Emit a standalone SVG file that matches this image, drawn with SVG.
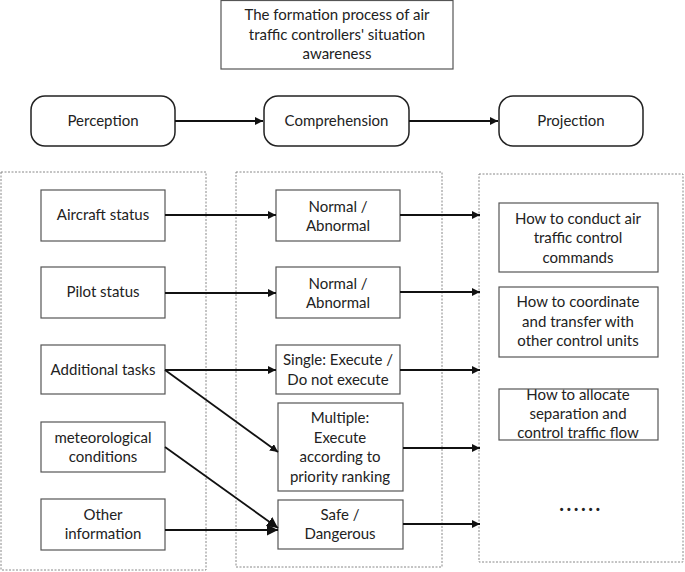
<svg xmlns="http://www.w3.org/2000/svg" width="685" height="572" viewBox="0 0 685 572">
<defs>
<marker id="ah" viewBox="0 0 10 10" refX="10" refY="5" markerWidth="8" markerHeight="8" markerUnits="userSpaceOnUse" orient="auto">
<path d="M0,0 L10,5 L0,10 z" fill="#111"/>
</marker>
<marker id="ahb" viewBox="0 0 10 10" refX="10" refY="5" markerWidth="11" markerHeight="11" markerUnits="userSpaceOnUse" orient="auto">
<path d="M0,0 L10,5 L0,10 z" fill="#111"/>
</marker>
</defs>
<style>
text{font-family:Lato,"Liberation Sans",sans-serif;font-size:15px;fill:#222;text-anchor:middle}
.box{fill:#fff;stroke:#555;stroke-width:1.2}
.ob{fill:none;stroke:#555;stroke-width:1.2}
.rnd{fill:#fff;stroke:#222;stroke-width:1.5}
.grp{fill:none;stroke:#888;stroke-width:1;stroke-dasharray:2,1.5}
.c{fill:none;stroke:#111;stroke-width:1.8;marker-end:url(#ah)}
</style>
<rect width="685" height="572" fill="#fff"/>
<g id="containers">
<rect class="grp" x="1" y="172" width="205" height="398"/>
<rect class="grp" x="236" y="172" width="206" height="395"/>
<rect class="grp" x="479" y="174" width="204" height="388"/>
</g>
<g id="title">
<rect class="box" x="221" y="0.5" width="232" height="68.5"/>
<text x="337" y="20">The formation process of air</text>
<text x="337" y="40">traffic controllers' situation</text>
<text x="337" y="59">awareness</text>
</g>
<g id="perception"><rect class="rnd" x="31" y="96" width="144" height="50" rx="14"/><text x="103" y="126">Perception</text></g>
<g id="comprehension"><rect class="rnd" x="264" y="96" width="145" height="50" rx="14"/><text x="336.5" y="126">Comprehension</text></g>
<g id="projection"><rect class="rnd" x="499" y="96" width="144" height="50" rx="14"/><text x="571" y="126">Projection</text></g>
<g id="aircraft"><rect class="box" x="41" y="190" width="124" height="51"/><text x="103" y="220">Aircraft status</text></g>
<g id="pilot"><rect class="box" x="41" y="267" width="124" height="51"/><text x="103" y="297">Pilot status</text></g>
<g id="additional"><rect class="box" x="41" y="345" width="124" height="49"/><text x="103" y="375">Additional tasks</text></g>
<g id="meteo"><rect class="box" x="41" y="422" width="124" height="50"/><text x="103" y="443">meteorological</text><text x="103" y="462">conditions</text></g>
<g id="other"><rect class="box" x="41" y="499" width="124" height="51"/><text x="103" y="520">Other</text><text x="103" y="539">information</text></g>
<g id="normal1"><rect class="box" x="276" y="190" width="124" height="51"/><text x="338" y="212">Normal /</text><text x="338" y="231">Abnormal</text></g>
<g id="normal2"><rect class="box" x="276" y="267" width="124" height="51"/><text x="338" y="289">Normal /</text><text x="338" y="308">Abnormal</text></g>
<g id="single"><rect class="box" x="276" y="345" width="124" height="49"/><text x="338" y="365">Single: Execute /</text><text x="338" y="385">Do not execute</text></g>
<g id="multiple"><rect class="box" x="278" y="403" width="125" height="88"/><text x="340" y="423">Multiple:</text><text x="340" y="443">Execute</text><text x="340" y="462">according to</text><text x="340" y="482">priority ranking</text></g>
<g id="safe"><rect class="box" x="278" y="500" width="125" height="49"/><text x="340" y="520">Safe /</text><text x="340" y="539">Dangerous</text></g>
<g id="proj1"><rect class="box" x="499" y="203" width="159" height="69"/><text x="578" y="224">How to conduct air</text><text x="578" y="243">traffic control</text><text x="578" y="263">commands</text></g>
<g id="proj2"><rect class="box" x="499" y="287" width="159" height="70"/><text x="578" y="307">How to coordinate</text><text x="578" y="327">and transfer with</text><text x="578" y="346">other control units</text></g>
<g id="proj3"><text x="578" y="400">How to allocate</text><text x="578" y="419">separation and</text><text x="578" y="438">control traffic flow</text><rect class="ob" x="499" y="389" width="159" height="51"/></g>
<g id="more"><text x="581" y="511" style="font-weight:bold;font-size:20px;letter-spacing:2.5px">......</text></g>
<g id="connectors">
<line class="c" x1="175" y1="121" x2="263" y2="121"/>
<line class="c" x1="409" y1="121" x2="498" y2="121"/>
<line class="c" x1="165" y1="215" x2="276" y2="215"/>
<line class="c" x1="165" y1="293" x2="276" y2="293"/>
<line class="c" x1="165" y1="370" x2="276" y2="370"/>
<line class="c" x1="165" y1="370" x2="278" y2="452"/>
<line class="c" x1="165" y1="447" x2="278" y2="528" style="marker-end:url(#ahb)"/>
<line class="c" x1="165" y1="530" x2="278" y2="530" style="marker-end:url(#ahb)"/>
<line class="c" x1="400" y1="215" x2="480" y2="215"/>
<line class="c" x1="400" y1="292" x2="480" y2="292"/>
<line class="c" x1="400" y1="370" x2="480" y2="370"/>
<line class="c" x1="403" y1="448" x2="480" y2="448"/>
<line class="c" x1="403" y1="524" x2="480" y2="524"/>
</g>
</svg>
